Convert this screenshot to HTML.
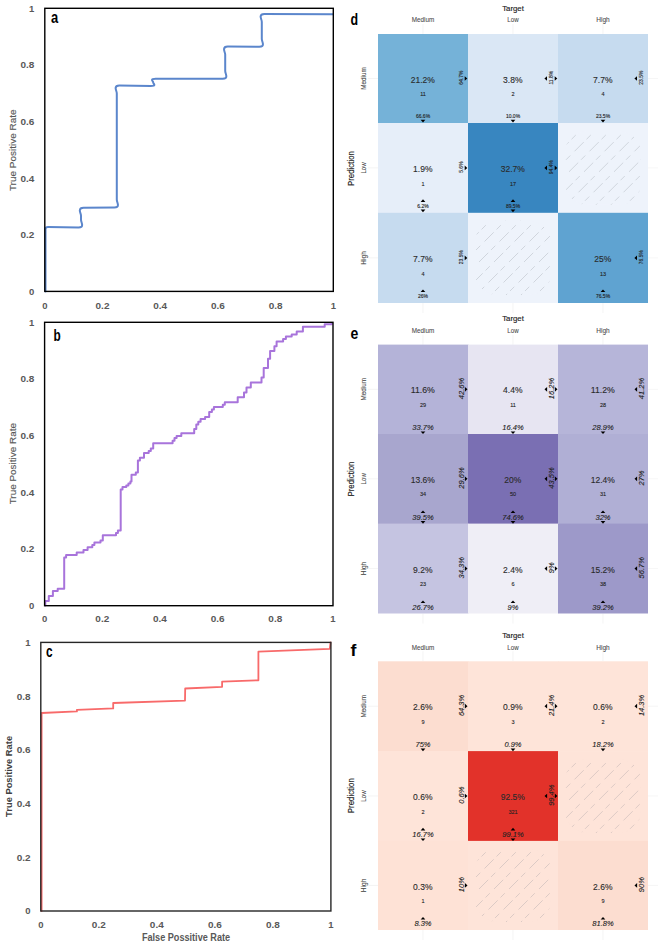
<!DOCTYPE html><html><head><meta charset="utf-8"><style>html,body{margin:0;padding:0;background:#fff;width:662px;height:945px;overflow:hidden;position:relative}</style></head><body><svg width="662" height="945" viewBox="0 0 662 945" style="position:absolute;left:0;top:0;font-family:&quot;Liberation Sans&quot;, sans-serif">
<rect width="662" height="945" fill="#fff"/>
<text x="34.40" y="294.80" font-size="9.5" fill="#595959" text-anchor="end" font-weight="bold">0</text>
<text x="44.80" y="308.80" font-size="9.5" fill="#595959" text-anchor="middle" font-weight="bold">0</text>
<text x="34.40" y="238.18" font-size="9.5" fill="#595959" text-anchor="end" font-weight="bold" textLength="13.9" lengthAdjust="spacingAndGlyphs">0.2</text>
<text x="102.50" y="308.80" font-size="9.5" fill="#595959" text-anchor="middle" font-weight="bold" textLength="13.9" lengthAdjust="spacingAndGlyphs">0.2</text>
<text x="34.40" y="181.56" font-size="9.5" fill="#595959" text-anchor="end" font-weight="bold" textLength="13.9" lengthAdjust="spacingAndGlyphs">0.4</text>
<text x="160.20" y="308.80" font-size="9.5" fill="#595959" text-anchor="middle" font-weight="bold" textLength="13.9" lengthAdjust="spacingAndGlyphs">0.4</text>
<text x="34.40" y="124.94" font-size="9.5" fill="#595959" text-anchor="end" font-weight="bold" textLength="13.9" lengthAdjust="spacingAndGlyphs">0.6</text>
<text x="217.90" y="308.80" font-size="9.5" fill="#595959" text-anchor="middle" font-weight="bold" textLength="13.9" lengthAdjust="spacingAndGlyphs">0.6</text>
<text x="34.40" y="68.32" font-size="9.5" fill="#595959" text-anchor="end" font-weight="bold" textLength="13.9" lengthAdjust="spacingAndGlyphs">0.8</text>
<text x="275.60" y="308.80" font-size="9.5" fill="#595959" text-anchor="middle" font-weight="bold" textLength="13.9" lengthAdjust="spacingAndGlyphs">0.8</text>
<text x="34.40" y="11.70" font-size="9.5" fill="#595959" text-anchor="end" font-weight="bold">1</text>
<text x="333.30" y="308.80" font-size="9.5" fill="#595959" text-anchor="middle" font-weight="bold">1</text>
<path d="M45.5,291.4 L45.5,229 C45.5,227.5 46,227 48,227  L78.50,227.60 C81.50,227.60 82.30,226.60 82.11,224.60 C81.91,222.60 81.00,221.60 81.00,219.60 L81.00,215.80 C81.00,213.80 79.70,212.30 79.83,210.30 C79.96,208.30 81.00,207.80 83.50,207.80 L114.30,207.60 C117.30,207.60 118.10,206.60 117.91,204.60 C117.71,202.60 116.80,201.60 116.80,199.60 L116.80,93.40 C116.80,91.40 115.50,89.90 115.63,87.90 C115.76,85.90 116.80,85.40 119.30,85.40 L150.70,86.00 C153.70,86.00 154.50,85.55 154.30,84.65 C154.11,83.75 153.20,83.30 153.20,82.40 L153.20,82.40 C153.20,81.50 151.90,80.83 152.03,79.92 C152.16,79.02 153.20,78.80 155.70,78.80 L222.70,78.80 C225.70,78.80 226.50,77.80 226.30,75.80 C226.11,73.80 225.20,72.80 225.20,70.80 L225.20,54.60 C225.20,52.60 223.90,51.10 224.03,49.10 C224.16,47.10 225.20,46.60 227.70,46.60 L259.30,46.80 C262.30,46.80 263.10,45.80 262.91,43.80 C262.71,41.80 261.80,40.80 261.80,38.80 L261.80,21.90 C261.80,19.90 260.50,18.40 260.63,16.40 C260.76,14.40 261.80,13.90 264.30,13.90 L333.00,14.30" fill="none" stroke="#5B86CC" stroke-width="2" stroke-linejoin="round" stroke-linecap="round"/>
<rect x="44.80" y="8.30" width="288.50" height="283.10" fill="none" stroke="#000" stroke-width="1.4"/>
<text x="51.00" y="23.00" font-size="16" fill="#000" text-anchor="start" font-weight="bold" textLength="7.2" lengthAdjust="spacingAndGlyphs">a</text>
<text x="16.20" y="150.30" font-size="9" fill="#595959" text-anchor="middle" textLength="81.6" lengthAdjust="spacingAndGlyphs" transform="rotate(-90 16.20 150.30)" stroke="#595959" stroke-width="0.15">True Positive Rate</text>
<text x="34.40" y="609.10" font-size="9.5" fill="#595959" text-anchor="end" font-weight="bold">0</text>
<text x="44.60" y="622.40" font-size="9.5" fill="#595959" text-anchor="middle" font-weight="bold">0</text>
<text x="34.40" y="552.42" font-size="9.5" fill="#595959" text-anchor="end" font-weight="bold" textLength="13.9" lengthAdjust="spacingAndGlyphs">0.2</text>
<text x="102.28" y="622.40" font-size="9.5" fill="#595959" text-anchor="middle" font-weight="bold" textLength="13.9" lengthAdjust="spacingAndGlyphs">0.2</text>
<text x="34.40" y="495.74" font-size="9.5" fill="#595959" text-anchor="end" font-weight="bold" textLength="13.9" lengthAdjust="spacingAndGlyphs">0.4</text>
<text x="159.96" y="622.40" font-size="9.5" fill="#595959" text-anchor="middle" font-weight="bold" textLength="13.9" lengthAdjust="spacingAndGlyphs">0.4</text>
<text x="34.40" y="439.06" font-size="9.5" fill="#595959" text-anchor="end" font-weight="bold" textLength="13.9" lengthAdjust="spacingAndGlyphs">0.6</text>
<text x="217.64" y="622.40" font-size="9.5" fill="#595959" text-anchor="middle" font-weight="bold" textLength="13.9" lengthAdjust="spacingAndGlyphs">0.6</text>
<text x="34.40" y="382.38" font-size="9.5" fill="#595959" text-anchor="end" font-weight="bold" textLength="13.9" lengthAdjust="spacingAndGlyphs">0.8</text>
<text x="275.32" y="622.40" font-size="9.5" fill="#595959" text-anchor="middle" font-weight="bold" textLength="13.9" lengthAdjust="spacingAndGlyphs">0.8</text>
<text x="34.40" y="325.70" font-size="9.5" fill="#595959" text-anchor="end" font-weight="bold">1</text>
<text x="333.00" y="622.40" font-size="9.5" fill="#595959" text-anchor="middle" font-weight="bold">1</text>
<path d="M45.30,605.60 L45.30,600.90 L48.80,600.90 L48.80,596.10 L52.90,596.10 L52.90,591.00 L57.70,591.00 L57.70,588.70 L64.20,588.70 L64.20,557.40 L66.10,557.40 L66.10,555.00 L76.70,555.00 L76.70,552.40 L83.50,552.40 L83.50,549.90 L87.60,549.90 L87.60,547.20 L92.30,547.20 L92.30,545.10 L94.40,545.10 L94.40,542.40 L100.50,542.40 L100.50,540.40 L102.80,540.40 L102.80,535.20 L116.00,535.20 L116.00,533.10 L117.90,533.10 L117.90,530.40 L120.70,530.40 L120.70,489.60 L122.50,489.60 L122.50,486.90 L126.30,486.90 L126.30,485.50 L128.40,485.50 L128.40,483.50 L130.40,483.50 L130.40,481.50 L131.50,481.50 L131.50,474.70 L135.80,474.70 L135.80,472.60 L137.90,472.60 L137.90,460.40 L139.90,460.40 L139.90,457.70 L144.00,457.70 L144.00,452.90 L148.70,452.90 L148.70,450.90 L150.80,450.90 L150.80,448.40 L153.20,448.40 L153.20,443.20 L172.60,443.20 L172.60,440.70 L174.50,440.70 L174.50,438.00 L176.60,438.00 L176.60,435.90 L181.30,435.90 L181.30,433.20 L194.20,433.20 L194.20,429.10 L196.30,429.10 L196.30,424.40 L198.30,424.40 L198.30,421.70 L200.60,421.70 L200.60,418.90 L205.10,418.90 L205.10,416.90 L209.20,416.90 L209.20,412.10 L211.90,412.10 L211.90,409.40 L213.90,409.40 L213.90,407.00 L222.80,407.00 L222.80,404.70 L224.80,404.70 L224.80,402.20 L237.70,402.20 L237.70,397.20 L244.00,397.20 L244.00,392.50 L246.50,392.50 L246.50,387.50 L250.80,387.50 L250.80,382.50 L261.50,382.50 L261.50,377.40 L263.70,377.40 L263.70,368.10 L268.00,368.10 L268.00,358.80 L270.10,358.80 L270.10,350.90 L274.40,350.90 L274.40,346.30 L276.60,346.30 L276.60,341.60 L283.10,341.60 L283.10,339.10 L285.90,339.10 L285.90,336.50 L291.70,336.50 L291.70,334.40 L296.70,334.40 L296.70,331.50 L302.90,331.50 L302.90,326.80 L324.70,326.80 L324.70,324.30 L331.80,324.30 L331.80,322.90" fill="none" stroke="#A874DB" stroke-width="2" stroke-linejoin="round" stroke-linecap="round"/>
<rect x="44.60" y="322.30" width="288.40" height="283.40" fill="none" stroke="#000" stroke-width="1.4"/>
<text x="53.50" y="341.40" font-size="16" fill="#000" text-anchor="start" font-weight="bold" textLength="7.2" lengthAdjust="spacingAndGlyphs">b</text>
<text x="16.20" y="463.70" font-size="9" fill="#595959" text-anchor="middle" textLength="81.3" lengthAdjust="spacingAndGlyphs" transform="rotate(-90 16.20 463.70)" stroke="#595959" stroke-width="0.15">True Positive Rate</text>
<text x="30.60" y="914.40" font-size="9.5" fill="#595959" text-anchor="end" font-weight="bold">0</text>
<text x="40.80" y="928.00" font-size="9.5" fill="#595959" text-anchor="middle" font-weight="bold">0</text>
<text x="30.60" y="860.68" font-size="9.5" fill="#595959" text-anchor="end" font-weight="bold" textLength="13.9" lengthAdjust="spacingAndGlyphs">0.2</text>
<text x="98.82" y="928.00" font-size="9.5" fill="#595959" text-anchor="middle" font-weight="bold" textLength="13.9" lengthAdjust="spacingAndGlyphs">0.2</text>
<text x="30.60" y="806.96" font-size="9.5" fill="#595959" text-anchor="end" font-weight="bold" textLength="13.9" lengthAdjust="spacingAndGlyphs">0.4</text>
<text x="156.84" y="928.00" font-size="9.5" fill="#595959" text-anchor="middle" font-weight="bold" textLength="13.9" lengthAdjust="spacingAndGlyphs">0.4</text>
<text x="30.60" y="753.24" font-size="9.5" fill="#595959" text-anchor="end" font-weight="bold" textLength="13.9" lengthAdjust="spacingAndGlyphs">0.6</text>
<text x="214.86" y="928.00" font-size="9.5" fill="#595959" text-anchor="middle" font-weight="bold" textLength="13.9" lengthAdjust="spacingAndGlyphs">0.6</text>
<text x="30.60" y="699.52" font-size="9.5" fill="#595959" text-anchor="end" font-weight="bold" textLength="13.9" lengthAdjust="spacingAndGlyphs">0.8</text>
<text x="272.88" y="928.00" font-size="9.5" fill="#595959" text-anchor="middle" font-weight="bold" textLength="13.9" lengthAdjust="spacingAndGlyphs">0.8</text>
<text x="30.60" y="645.80" font-size="9.5" fill="#595959" text-anchor="end" font-weight="bold">1</text>
<text x="330.90" y="928.00" font-size="9.5" fill="#595959" text-anchor="middle" font-weight="bold">1</text>
<path d="M41.60,911.00 L41.60,713.00 L76.90,711.40 L76.90,709.80 L113.20,708.40 L113.20,703.00 L185.00,700.60 L185.20,688.50 L222.10,686.80 L222.10,681.70 L258.40,680.30 L258.40,651.70 L329.80,648.90 L330.50,642.50" fill="none" stroke="#F86A6A" stroke-width="1.8" stroke-linejoin="round" stroke-linecap="round"/>
<rect x="40.80" y="642.40" width="290.10" height="268.60" fill="none" stroke="#262626" stroke-width="1.4"/>
<text x="46.00" y="657.00" font-size="16" fill="#000" text-anchor="start" font-weight="bold" textLength="6.6" lengthAdjust="spacingAndGlyphs">c</text>
<text x="11.70" y="776.40" font-size="9.6" fill="#404040" text-anchor="middle" font-weight="bold" textLength="81" lengthAdjust="spacingAndGlyphs" transform="rotate(-90 11.70 776.40)">True Positive Rate</text>
<text x="186.00" y="941.30" font-size="10" fill="#595959" text-anchor="middle" font-weight="bold" textLength="88.2" lengthAdjust="spacingAndGlyphs">False Possitive Rate</text>
<text x="350.50" y="25.00" font-size="16" fill="#000" text-anchor="start" font-weight="bold" textLength="7.6" lengthAdjust="spacingAndGlyphs">d</text>
<text x="513.00" y="10.70" font-size="8" fill="#222" text-anchor="middle" textLength="21.7" lengthAdjust="spacingAndGlyphs" stroke="#222" stroke-width="0.15">Target</text>
<text x="423.00" y="22.40" font-size="7" fill="#4a4a4a" text-anchor="middle" textLength="22.5" lengthAdjust="spacingAndGlyphs" stroke="#4a4a4a" stroke-width="0.08">Medium</text>
<line x1="423.0" y1="24.0" x2="423.0" y2="34.0" stroke="#ececec" stroke-width="0.6"/>
<line x1="423.0" y1="303.0" x2="423.0" y2="313.0" stroke="#ececec" stroke-width="0.6"/>
<text x="513.00" y="22.40" font-size="7" fill="#4a4a4a" text-anchor="middle" textLength="11.3" lengthAdjust="spacingAndGlyphs" stroke="#4a4a4a" stroke-width="0.08">Low</text>
<line x1="513.0" y1="24.0" x2="513.0" y2="34.0" stroke="#ececec" stroke-width="0.6"/>
<line x1="513.0" y1="303.0" x2="513.0" y2="313.0" stroke="#ececec" stroke-width="0.6"/>
<text x="603.00" y="22.40" font-size="7" fill="#4a4a4a" text-anchor="middle" textLength="13.5" lengthAdjust="spacingAndGlyphs" stroke="#4a4a4a" stroke-width="0.08">High</text>
<line x1="603.0" y1="24.0" x2="603.0" y2="34.0" stroke="#ececec" stroke-width="0.6"/>
<line x1="603.0" y1="303.0" x2="603.0" y2="313.0" stroke="#ececec" stroke-width="0.6"/>
<text x="366.30" y="78.50" font-size="7" fill="#4a4a4a" text-anchor="middle" textLength="22.5" lengthAdjust="spacingAndGlyphs" transform="rotate(-90 366.30 78.50)" stroke="#4a4a4a" stroke-width="0.08">Medium</text>
<line x1="368" y1="78.50" x2="378" y2="78.50" stroke="#ececec" stroke-width="0.6"/>
<line x1="648" y1="78.50" x2="658" y2="78.50" stroke="#f0f0f0" stroke-width="0.6"/>
<text x="366.30" y="167.90" font-size="7" fill="#4a4a4a" text-anchor="middle" textLength="11.3" lengthAdjust="spacingAndGlyphs" transform="rotate(-90 366.30 167.90)" stroke="#4a4a4a" stroke-width="0.08">Low</text>
<line x1="368" y1="167.90" x2="378" y2="167.90" stroke="#ececec" stroke-width="0.6"/>
<line x1="648" y1="167.90" x2="658" y2="167.90" stroke="#f0f0f0" stroke-width="0.6"/>
<text x="366.30" y="257.90" font-size="7" fill="#4a4a4a" text-anchor="middle" textLength="13.5" lengthAdjust="spacingAndGlyphs" transform="rotate(-90 366.30 257.90)" stroke="#4a4a4a" stroke-width="0.08">High</text>
<line x1="368" y1="257.90" x2="378" y2="257.90" stroke="#ececec" stroke-width="0.6"/>
<line x1="648" y1="257.90" x2="658" y2="257.90" stroke="#f0f0f0" stroke-width="0.6"/>
<text x="353.60" y="168.50" font-size="9" fill="#222" text-anchor="middle" textLength="35" lengthAdjust="spacingAndGlyphs" transform="rotate(-90 353.60 168.50)" stroke="#222" stroke-width="0.15">Prediction</text>
<rect x="378.00" y="34.00" width="90.5" height="89.50" fill="#75B2D8"/>
<rect x="468.00" y="34.00" width="90.5" height="89.50" fill="#DAE7F5"/>
<rect x="558.00" y="34.00" width="90" height="89.50" fill="#C6DBEF"/>
<rect x="378.00" y="123.00" width="90.5" height="90.30" fill="#E6EEF9"/>
<rect x="468.00" y="123.00" width="90.5" height="90.30" fill="#3886C0"/>
<rect x="558.00" y="123.00" width="90" height="90.30" fill="#EEF3FB"/>
<rect x="378.00" y="212.80" width="90.5" height="90.20" fill="#C6DBEF"/>
<rect x="468.00" y="212.80" width="90.5" height="90.20" fill="#EEF3FB"/>
<rect x="558.00" y="212.80" width="90" height="90.20" fill="#5FA3D1"/>
<text x="422.80" y="82.60" font-size="9" fill="#2a2a2a" text-anchor="middle" textLength="24.1" lengthAdjust="spacingAndGlyphs" stroke="#2a2a2a" stroke-width="0.12">21.2%</text>
<text x="423.00" y="96.10" font-size="5.5" fill="#222" text-anchor="middle" stroke="#222" stroke-width="0.1">11</text>
<text x="423.00" y="118.00" font-size="5" fill="#222" text-anchor="middle" stroke="#222" stroke-width="0.12">66.6%</text>
<path d="M420.65,119.80 L425.35,119.80 L423.00,122.40Z" fill="#000"/>
<text x="462.60" y="77.70" font-size="5" fill="#222" text-anchor="middle" transform="rotate(-90 462.60 77.70)" stroke="#222" stroke-width="0.12">64.7%</text>
<path d="M464.70,76.15 L464.70,80.85 L467.30,78.50Z" fill="#000"/>
<text x="512.80" y="82.60" font-size="9" fill="#2a2a2a" text-anchor="middle" textLength="19.4" lengthAdjust="spacingAndGlyphs" stroke="#2a2a2a" stroke-width="0.12">3.8%</text>
<text x="513.00" y="96.10" font-size="5.5" fill="#222" text-anchor="middle" stroke="#222" stroke-width="0.1">2</text>
<text x="513.00" y="118.00" font-size="5" fill="#222" text-anchor="middle" stroke="#222" stroke-width="0.12">10.0%</text>
<path d="M510.65,119.80 L515.35,119.80 L513.00,122.40Z" fill="#000"/>
<text x="552.60" y="77.70" font-size="5" fill="#222" text-anchor="middle" transform="rotate(-90 552.60 77.70)" stroke="#222" stroke-width="0.12">11.8%</text>
<path d="M554.70,76.15 L554.70,80.85 L557.30,78.50Z" fill="#000"/>
<path d="M547.00,76.15 L547.00,80.85 L544.40,78.50Z" fill="#000"/>
<text x="602.80" y="82.60" font-size="9" fill="#2a2a2a" text-anchor="middle" textLength="19.4" lengthAdjust="spacingAndGlyphs" stroke="#2a2a2a" stroke-width="0.12">7.7%</text>
<text x="603.00" y="96.10" font-size="5.5" fill="#222" text-anchor="middle" stroke="#222" stroke-width="0.1">4</text>
<text x="603.00" y="118.00" font-size="5" fill="#222" text-anchor="middle" stroke="#222" stroke-width="0.12">23.5%</text>
<path d="M600.65,119.80 L605.35,119.80 L603.00,122.40Z" fill="#000"/>
<text x="642.60" y="77.70" font-size="5" fill="#222" text-anchor="middle" transform="rotate(-90 642.60 77.70)" stroke="#222" stroke-width="0.12">23.5%</text>
<path d="M637.00,76.15 L637.00,80.85 L634.40,78.50Z" fill="#000"/>
<text x="422.80" y="172.00" font-size="9" fill="#2a2a2a" text-anchor="middle" textLength="19.4" lengthAdjust="spacingAndGlyphs" stroke="#2a2a2a" stroke-width="0.12">1.9%</text>
<text x="423.00" y="185.50" font-size="5.5" fill="#222" text-anchor="middle" stroke="#222" stroke-width="0.1">1</text>
<text x="423.00" y="207.80" font-size="5" fill="#222" text-anchor="middle" stroke="#222" stroke-width="0.12">6.2%</text>
<path d="M420.65,209.60 L425.35,209.60 L423.00,212.20Z" fill="#000"/>
<path d="M420.65,201.90 L425.35,201.90 L423.00,199.30Z" fill="#000"/>
<text x="462.60" y="167.10" font-size="5" fill="#222" text-anchor="middle" transform="rotate(-90 462.60 167.10)" stroke="#222" stroke-width="0.12">5.6%</text>
<path d="M464.70,165.55 L464.70,170.25 L467.30,167.90Z" fill="#000"/>
<text x="512.80" y="172.00" font-size="9" fill="#2a2a2a" text-anchor="middle" textLength="24.1" lengthAdjust="spacingAndGlyphs" stroke="#2a2a2a" stroke-width="0.12">32.7%</text>
<text x="513.00" y="185.50" font-size="5.5" fill="#222" text-anchor="middle" stroke="#222" stroke-width="0.1">17</text>
<text x="513.00" y="207.80" font-size="5" fill="#222" text-anchor="middle" stroke="#222" stroke-width="0.12">89.5%</text>
<path d="M510.65,209.60 L515.35,209.60 L513.00,212.20Z" fill="#000"/>
<path d="M510.65,201.90 L515.35,201.90 L513.00,199.30Z" fill="#000"/>
<text x="552.60" y="167.10" font-size="5" fill="#222" text-anchor="middle" transform="rotate(-90 552.60 167.10)" stroke="#222" stroke-width="0.12">94.4%</text>
<path d="M554.70,165.55 L554.70,170.25 L557.30,167.90Z" fill="#000"/>
<path d="M547.00,165.55 L547.00,170.25 L544.40,167.90Z" fill="#000"/>
<clipPath id="clipd12"><rect x="565.00" y="131.00" width="76" height="73.80" rx="22" ry="22"/></clipPath>
<g clip-path="url(#clipd12)" stroke="#80848e" stroke-width="0.5" stroke-dasharray="13 4 6 6" opacity="0.55">
<line x1="453.00" y1="212.80" x2="542.80" y2="123.00"/>
<line x1="468.00" y1="212.80" x2="557.80" y2="123.00"/>
<line x1="483.00" y1="212.80" x2="572.80" y2="123.00"/>
<line x1="498.00" y1="212.80" x2="587.80" y2="123.00"/>
<line x1="513.00" y1="212.80" x2="602.80" y2="123.00"/>
<line x1="528.00" y1="212.80" x2="617.80" y2="123.00"/>
<line x1="543.00" y1="212.80" x2="632.80" y2="123.00"/>
<line x1="558.00" y1="212.80" x2="647.80" y2="123.00"/>
<line x1="573.00" y1="212.80" x2="662.80" y2="123.00"/>
<line x1="588.00" y1="212.80" x2="677.80" y2="123.00"/>
<line x1="603.00" y1="212.80" x2="692.80" y2="123.00"/>
<line x1="618.00" y1="212.80" x2="707.80" y2="123.00"/>
<line x1="633.00" y1="212.80" x2="722.80" y2="123.00"/>
<line x1="648.00" y1="212.80" x2="737.80" y2="123.00"/>
<line x1="663.00" y1="212.80" x2="752.80" y2="123.00"/>
</g>
<text x="422.80" y="262.00" font-size="9" fill="#2a2a2a" text-anchor="middle" textLength="19.4" lengthAdjust="spacingAndGlyphs" stroke="#2a2a2a" stroke-width="0.12">7.7%</text>
<text x="423.00" y="275.50" font-size="5.5" fill="#222" text-anchor="middle" stroke="#222" stroke-width="0.1">4</text>
<text x="423.00" y="298.00" font-size="5" fill="#222" text-anchor="middle" stroke="#222" stroke-width="0.12">26%</text>
<path d="M420.65,292.10 L425.35,292.10 L423.00,289.50Z" fill="#000"/>
<text x="462.60" y="257.10" font-size="5" fill="#222" text-anchor="middle" transform="rotate(-90 462.60 257.10)" stroke="#222" stroke-width="0.12">23.5%</text>
<path d="M464.70,255.55 L464.70,260.25 L467.30,257.90Z" fill="#000"/>
<clipPath id="clipd21"><rect x="475.00" y="220.80" width="76" height="74.20" rx="22" ry="22"/></clipPath>
<g clip-path="url(#clipd21)" stroke="#80848e" stroke-width="0.5" stroke-dasharray="13 4 6 6" opacity="0.55">
<line x1="363.00" y1="303.00" x2="453.20" y2="212.80"/>
<line x1="378.00" y1="303.00" x2="468.20" y2="212.80"/>
<line x1="393.00" y1="303.00" x2="483.20" y2="212.80"/>
<line x1="408.00" y1="303.00" x2="498.20" y2="212.80"/>
<line x1="423.00" y1="303.00" x2="513.20" y2="212.80"/>
<line x1="438.00" y1="303.00" x2="528.20" y2="212.80"/>
<line x1="453.00" y1="303.00" x2="543.20" y2="212.80"/>
<line x1="468.00" y1="303.00" x2="558.20" y2="212.80"/>
<line x1="483.00" y1="303.00" x2="573.20" y2="212.80"/>
<line x1="498.00" y1="303.00" x2="588.20" y2="212.80"/>
<line x1="513.00" y1="303.00" x2="603.20" y2="212.80"/>
<line x1="528.00" y1="303.00" x2="618.20" y2="212.80"/>
<line x1="543.00" y1="303.00" x2="633.20" y2="212.80"/>
<line x1="558.00" y1="303.00" x2="648.20" y2="212.80"/>
<line x1="573.00" y1="303.00" x2="663.20" y2="212.80"/>
</g>
<text x="602.80" y="262.00" font-size="9" fill="#2a2a2a" text-anchor="middle" textLength="17.0" lengthAdjust="spacingAndGlyphs" stroke="#2a2a2a" stroke-width="0.12">25%</text>
<text x="603.00" y="275.50" font-size="5.5" fill="#222" text-anchor="middle" stroke="#222" stroke-width="0.1">13</text>
<text x="603.00" y="298.00" font-size="5" fill="#222" text-anchor="middle" stroke="#222" stroke-width="0.12">76.5%</text>
<path d="M600.65,292.10 L605.35,292.10 L603.00,289.50Z" fill="#000"/>
<text x="642.60" y="257.10" font-size="5" fill="#222" text-anchor="middle" transform="rotate(-90 642.60 257.10)" stroke="#222" stroke-width="0.12">76.5%</text>
<path d="M637.00,255.55 L637.00,260.25 L634.40,257.90Z" fill="#000"/>
<text x="350.50" y="339.30" font-size="16" fill="#000" text-anchor="start" font-weight="bold" textLength="7.8" lengthAdjust="spacingAndGlyphs">e</text>
<text x="513.00" y="321.30" font-size="8" fill="#222" text-anchor="middle" textLength="21.7" lengthAdjust="spacingAndGlyphs" stroke="#222" stroke-width="0.15">Target</text>
<text x="423.00" y="333.00" font-size="7" fill="#4a4a4a" text-anchor="middle" textLength="22.5" lengthAdjust="spacingAndGlyphs" stroke="#4a4a4a" stroke-width="0.08">Medium</text>
<line x1="423.0" y1="334.6" x2="423.0" y2="344.6" stroke="#ececec" stroke-width="0.6"/>
<line x1="423.0" y1="613.5" x2="423.0" y2="623.5" stroke="#ececec" stroke-width="0.6"/>
<text x="513.00" y="333.00" font-size="7" fill="#4a4a4a" text-anchor="middle" textLength="11.3" lengthAdjust="spacingAndGlyphs" stroke="#4a4a4a" stroke-width="0.08">Low</text>
<line x1="513.0" y1="334.6" x2="513.0" y2="344.6" stroke="#ececec" stroke-width="0.6"/>
<line x1="513.0" y1="613.5" x2="513.0" y2="623.5" stroke="#ececec" stroke-width="0.6"/>
<text x="603.00" y="333.00" font-size="7" fill="#4a4a4a" text-anchor="middle" textLength="13.5" lengthAdjust="spacingAndGlyphs" stroke="#4a4a4a" stroke-width="0.08">High</text>
<line x1="603.0" y1="334.6" x2="603.0" y2="344.6" stroke="#ececec" stroke-width="0.6"/>
<line x1="603.0" y1="613.5" x2="603.0" y2="623.5" stroke="#ececec" stroke-width="0.6"/>
<text x="366.30" y="389.30" font-size="7" fill="#4a4a4a" text-anchor="middle" textLength="22.5" lengthAdjust="spacingAndGlyphs" transform="rotate(-90 366.30 389.30)" stroke="#4a4a4a" stroke-width="0.08">Medium</text>
<line x1="368" y1="389.30" x2="378" y2="389.30" stroke="#ececec" stroke-width="0.6"/>
<line x1="648" y1="389.30" x2="658" y2="389.30" stroke="#f0f0f0" stroke-width="0.6"/>
<text x="366.30" y="478.80" font-size="7" fill="#4a4a4a" text-anchor="middle" textLength="11.3" lengthAdjust="spacingAndGlyphs" transform="rotate(-90 366.30 478.80)" stroke="#4a4a4a" stroke-width="0.08">Low</text>
<line x1="368" y1="478.80" x2="378" y2="478.80" stroke="#ececec" stroke-width="0.6"/>
<line x1="648" y1="478.80" x2="658" y2="478.80" stroke="#f0f0f0" stroke-width="0.6"/>
<text x="366.30" y="568.55" font-size="7" fill="#4a4a4a" text-anchor="middle" textLength="13.5" lengthAdjust="spacingAndGlyphs" transform="rotate(-90 366.30 568.55)" stroke="#4a4a4a" stroke-width="0.08">High</text>
<line x1="368" y1="568.55" x2="378" y2="568.55" stroke="#ececec" stroke-width="0.6"/>
<line x1="648" y1="568.55" x2="658" y2="568.55" stroke="#f0f0f0" stroke-width="0.6"/>
<text x="353.60" y="479.05" font-size="9" fill="#222" text-anchor="middle" textLength="35" lengthAdjust="spacingAndGlyphs" transform="rotate(-90 353.60 479.05)" stroke="#222" stroke-width="0.15">Prediction</text>
<rect x="378.00" y="344.60" width="90.5" height="89.90" fill="#B4B3D8"/>
<rect x="468.00" y="344.60" width="90.5" height="89.90" fill="#E7E5F2"/>
<rect x="558.00" y="344.60" width="90" height="89.90" fill="#B6B5D9"/>
<rect x="378.00" y="434.00" width="90.5" height="90.10" fill="#A8A6CE"/>
<rect x="468.00" y="434.00" width="90.5" height="90.10" fill="#7A6FB3"/>
<rect x="558.00" y="434.00" width="90" height="90.10" fill="#B0AFD5"/>
<rect x="378.00" y="523.60" width="90.5" height="89.90" fill="#C5C4E1"/>
<rect x="468.00" y="523.60" width="90.5" height="89.90" fill="#EFEEF6"/>
<rect x="558.00" y="523.60" width="90" height="89.90" fill="#9D99C9"/>
<text x="422.80" y="393.40" font-size="9" fill="#2a2a2a" text-anchor="middle" textLength="24.1" lengthAdjust="spacingAndGlyphs" stroke="#2a2a2a" stroke-width="0.12">11.6%</text>
<text x="423.00" y="406.90" font-size="5.5" fill="#222" text-anchor="middle" stroke="#222" stroke-width="0.1">29</text>
<text x="423.00" y="430.30" font-size="7.5" fill="#222" text-anchor="middle" font-style="italic" stroke="#222" stroke-width="0.12">33.7%</text>
<path d="M420.65,431.50 L425.35,431.50 L423.00,434.10Z" fill="#000"/>
<text x="464.20" y="388.50" font-size="7.5" fill="#222" text-anchor="middle" font-style="italic" transform="rotate(-90 464.20 388.50)" stroke="#222" stroke-width="0.12">42.6%</text>
<path d="M464.90,386.95 L464.90,391.65 L467.50,389.30Z" fill="#000"/>
<text x="512.80" y="393.40" font-size="9" fill="#2a2a2a" text-anchor="middle" textLength="19.4" lengthAdjust="spacingAndGlyphs" stroke="#2a2a2a" stroke-width="0.12">4.4%</text>
<text x="513.00" y="406.90" font-size="5.5" fill="#222" text-anchor="middle" stroke="#222" stroke-width="0.1">11</text>
<text x="513.00" y="430.30" font-size="7.5" fill="#222" text-anchor="middle" font-style="italic" stroke="#222" stroke-width="0.12">16.4%</text>
<path d="M510.65,431.50 L515.35,431.50 L513.00,434.10Z" fill="#000"/>
<text x="554.20" y="388.50" font-size="7.5" fill="#222" text-anchor="middle" font-style="italic" transform="rotate(-90 554.20 388.50)" stroke="#222" stroke-width="0.12">16.2%</text>
<path d="M554.90,386.95 L554.90,391.65 L557.50,389.30Z" fill="#000"/>
<path d="M547.10,386.95 L547.10,391.65 L544.50,389.30Z" fill="#000"/>
<text x="602.80" y="393.40" font-size="9" fill="#2a2a2a" text-anchor="middle" textLength="24.1" lengthAdjust="spacingAndGlyphs" stroke="#2a2a2a" stroke-width="0.12">11.2%</text>
<text x="603.00" y="406.90" font-size="5.5" fill="#222" text-anchor="middle" stroke="#222" stroke-width="0.1">28</text>
<text x="603.00" y="430.30" font-size="7.5" fill="#222" text-anchor="middle" font-style="italic" stroke="#222" stroke-width="0.12">28.9%</text>
<path d="M600.65,431.50 L605.35,431.50 L603.00,434.10Z" fill="#000"/>
<text x="644.20" y="388.50" font-size="7.5" fill="#222" text-anchor="middle" font-style="italic" transform="rotate(-90 644.20 388.50)" stroke="#222" stroke-width="0.12">41.2%</text>
<path d="M637.10,386.95 L637.10,391.65 L634.50,389.30Z" fill="#000"/>
<text x="422.80" y="482.90" font-size="9" fill="#2a2a2a" text-anchor="middle" textLength="24.1" lengthAdjust="spacingAndGlyphs" stroke="#2a2a2a" stroke-width="0.12">13.6%</text>
<text x="423.00" y="496.40" font-size="5.5" fill="#222" text-anchor="middle" stroke="#222" stroke-width="0.1">34</text>
<text x="423.00" y="519.90" font-size="7.5" fill="#222" text-anchor="middle" font-style="italic" stroke="#222" stroke-width="0.12">39.5%</text>
<path d="M420.65,521.10 L425.35,521.10 L423.00,523.70Z" fill="#000"/>
<path d="M420.65,513.10 L425.35,513.10 L423.00,510.50Z" fill="#000"/>
<text x="464.20" y="478.00" font-size="7.5" fill="#222" text-anchor="middle" font-style="italic" transform="rotate(-90 464.20 478.00)" stroke="#222" stroke-width="0.12">29.6%</text>
<path d="M464.90,476.45 L464.90,481.15 L467.50,478.80Z" fill="#000"/>
<text x="512.80" y="482.90" font-size="9" fill="#2a2a2a" text-anchor="middle" textLength="17.0" lengthAdjust="spacingAndGlyphs" stroke="#2a2a2a" stroke-width="0.12">20%</text>
<text x="513.00" y="496.40" font-size="5.5" fill="#222" text-anchor="middle" stroke="#222" stroke-width="0.1">50</text>
<text x="513.00" y="519.90" font-size="7.5" fill="#222" text-anchor="middle" font-style="italic" stroke="#222" stroke-width="0.12">74.6%</text>
<path d="M510.65,521.10 L515.35,521.10 L513.00,523.70Z" fill="#000"/>
<path d="M510.65,513.10 L515.35,513.10 L513.00,510.50Z" fill="#000"/>
<text x="554.20" y="478.00" font-size="7.5" fill="#222" text-anchor="middle" font-style="italic" transform="rotate(-90 554.20 478.00)" stroke="#222" stroke-width="0.12">43.5%</text>
<path d="M554.90,476.45 L554.90,481.15 L557.50,478.80Z" fill="#000"/>
<path d="M547.10,476.45 L547.10,481.15 L544.50,478.80Z" fill="#000"/>
<text x="602.80" y="482.90" font-size="9" fill="#2a2a2a" text-anchor="middle" textLength="24.1" lengthAdjust="spacingAndGlyphs" stroke="#2a2a2a" stroke-width="0.12">12.4%</text>
<text x="603.00" y="496.40" font-size="5.5" fill="#222" text-anchor="middle" stroke="#222" stroke-width="0.1">31</text>
<text x="603.00" y="519.90" font-size="7.5" fill="#222" text-anchor="middle" font-style="italic" stroke="#222" stroke-width="0.12">32%</text>
<path d="M600.65,521.10 L605.35,521.10 L603.00,523.70Z" fill="#000"/>
<path d="M600.65,513.10 L605.35,513.10 L603.00,510.50Z" fill="#000"/>
<text x="644.20" y="478.00" font-size="7.5" fill="#222" text-anchor="middle" font-style="italic" transform="rotate(-90 644.20 478.00)" stroke="#222" stroke-width="0.12">27%</text>
<path d="M637.10,476.45 L637.10,481.15 L634.50,478.80Z" fill="#000"/>
<text x="422.80" y="572.65" font-size="9" fill="#2a2a2a" text-anchor="middle" textLength="19.4" lengthAdjust="spacingAndGlyphs" stroke="#2a2a2a" stroke-width="0.12">9.2%</text>
<text x="423.00" y="586.15" font-size="5.5" fill="#222" text-anchor="middle" stroke="#222" stroke-width="0.1">23</text>
<text x="423.00" y="609.80" font-size="7.5" fill="#222" text-anchor="middle" font-style="italic" stroke="#222" stroke-width="0.12">26.7%</text>
<path d="M420.65,603.00 L425.35,603.00 L423.00,600.40Z" fill="#000"/>
<text x="464.20" y="567.75" font-size="7.5" fill="#222" text-anchor="middle" font-style="italic" transform="rotate(-90 464.20 567.75)" stroke="#222" stroke-width="0.12">34.3%</text>
<path d="M464.90,566.20 L464.90,570.90 L467.50,568.55Z" fill="#000"/>
<text x="512.80" y="572.65" font-size="9" fill="#2a2a2a" text-anchor="middle" textLength="19.4" lengthAdjust="spacingAndGlyphs" stroke="#2a2a2a" stroke-width="0.12">2.4%</text>
<text x="513.00" y="586.15" font-size="5.5" fill="#222" text-anchor="middle" stroke="#222" stroke-width="0.1">6</text>
<text x="513.00" y="609.80" font-size="7.5" fill="#222" text-anchor="middle" font-style="italic" stroke="#222" stroke-width="0.12">9%</text>
<path d="M510.65,603.00 L515.35,603.00 L513.00,600.40Z" fill="#000"/>
<text x="554.20" y="567.75" font-size="7.5" fill="#222" text-anchor="middle" font-style="italic" transform="rotate(-90 554.20 567.75)" stroke="#222" stroke-width="0.12">9%</text>
<path d="M554.90,566.20 L554.90,570.90 L557.50,568.55Z" fill="#000"/>
<path d="M547.10,566.20 L547.10,570.90 L544.50,568.55Z" fill="#000"/>
<text x="602.80" y="572.65" font-size="9" fill="#2a2a2a" text-anchor="middle" textLength="24.1" lengthAdjust="spacingAndGlyphs" stroke="#2a2a2a" stroke-width="0.12">15.2%</text>
<text x="603.00" y="586.15" font-size="5.5" fill="#222" text-anchor="middle" stroke="#222" stroke-width="0.1">38</text>
<text x="603.00" y="609.80" font-size="7.5" fill="#222" text-anchor="middle" font-style="italic" stroke="#222" stroke-width="0.12">39.2%</text>
<path d="M600.65,603.00 L605.35,603.00 L603.00,600.40Z" fill="#000"/>
<text x="644.20" y="567.75" font-size="7.5" fill="#222" text-anchor="middle" font-style="italic" transform="rotate(-90 644.20 567.75)" stroke="#222" stroke-width="0.12">56.7%</text>
<path d="M637.10,566.20 L637.10,570.90 L634.50,568.55Z" fill="#000"/>
<text x="350.50" y="655.80" font-size="16" fill="#000" text-anchor="start" font-weight="bold" textLength="5.9" lengthAdjust="spacingAndGlyphs">f</text>
<text x="513.00" y="638.00" font-size="8" fill="#222" text-anchor="middle" textLength="21.7" lengthAdjust="spacingAndGlyphs" stroke="#222" stroke-width="0.15">Target</text>
<text x="423.00" y="649.70" font-size="7" fill="#4a4a4a" text-anchor="middle" textLength="22.5" lengthAdjust="spacingAndGlyphs" stroke="#4a4a4a" stroke-width="0.08">Medium</text>
<line x1="423.0" y1="651.3" x2="423.0" y2="661.3" stroke="#ececec" stroke-width="0.6"/>
<line x1="423.0" y1="930.0" x2="423.0" y2="940.0" stroke="#ececec" stroke-width="0.6"/>
<text x="513.00" y="649.70" font-size="7" fill="#4a4a4a" text-anchor="middle" textLength="11.3" lengthAdjust="spacingAndGlyphs" stroke="#4a4a4a" stroke-width="0.08">Low</text>
<line x1="513.0" y1="651.3" x2="513.0" y2="661.3" stroke="#ececec" stroke-width="0.6"/>
<line x1="513.0" y1="930.0" x2="513.0" y2="940.0" stroke="#ececec" stroke-width="0.6"/>
<text x="603.00" y="649.70" font-size="7" fill="#4a4a4a" text-anchor="middle" textLength="13.5" lengthAdjust="spacingAndGlyphs" stroke="#4a4a4a" stroke-width="0.08">High</text>
<line x1="603.0" y1="651.3" x2="603.0" y2="661.3" stroke="#ececec" stroke-width="0.6"/>
<line x1="603.0" y1="930.0" x2="603.0" y2="940.0" stroke="#ececec" stroke-width="0.6"/>
<text x="366.30" y="706.20" font-size="7" fill="#4a4a4a" text-anchor="middle" textLength="22.5" lengthAdjust="spacingAndGlyphs" transform="rotate(-90 366.30 706.20)" stroke="#4a4a4a" stroke-width="0.08">Medium</text>
<line x1="368" y1="706.20" x2="378" y2="706.20" stroke="#ececec" stroke-width="0.6"/>
<line x1="648" y1="706.20" x2="658" y2="706.20" stroke="#f0f0f0" stroke-width="0.6"/>
<text x="366.30" y="796.00" font-size="7" fill="#4a4a4a" text-anchor="middle" textLength="11.3" lengthAdjust="spacingAndGlyphs" transform="rotate(-90 366.30 796.00)" stroke="#4a4a4a" stroke-width="0.08">Low</text>
<line x1="368" y1="796.00" x2="378" y2="796.00" stroke="#ececec" stroke-width="0.6"/>
<line x1="648" y1="796.00" x2="658" y2="796.00" stroke="#f0f0f0" stroke-width="0.6"/>
<text x="366.30" y="885.45" font-size="7" fill="#4a4a4a" text-anchor="middle" textLength="13.5" lengthAdjust="spacingAndGlyphs" transform="rotate(-90 366.30 885.45)" stroke="#4a4a4a" stroke-width="0.08">High</text>
<line x1="368" y1="885.45" x2="378" y2="885.45" stroke="#ececec" stroke-width="0.6"/>
<line x1="648" y1="885.45" x2="658" y2="885.45" stroke="#f0f0f0" stroke-width="0.6"/>
<text x="353.60" y="795.65" font-size="9" fill="#222" text-anchor="middle" textLength="35" lengthAdjust="spacingAndGlyphs" transform="rotate(-90 353.60 795.65)" stroke="#222" stroke-width="0.15">Prediction</text>
<rect x="378.00" y="661.30" width="90.5" height="90.30" fill="#FCDDD0"/>
<rect x="468.00" y="661.30" width="90.5" height="90.30" fill="#FEE4D9"/>
<rect x="558.00" y="661.30" width="90" height="90.30" fill="#FEE4D9"/>
<rect x="378.00" y="751.10" width="90.5" height="90.30" fill="#FEE4D9"/>
<rect x="468.00" y="751.10" width="90.5" height="90.30" fill="#E2322A"/>
<rect x="558.00" y="751.10" width="90" height="90.30" fill="#FEE4D9"/>
<rect x="378.00" y="840.90" width="90.5" height="89.10" fill="#FEE2D6"/>
<rect x="468.00" y="840.90" width="90.5" height="89.10" fill="#FEE4D9"/>
<rect x="558.00" y="840.90" width="90" height="89.10" fill="#FCDDD0"/>
<text x="422.80" y="710.30" font-size="9" fill="#2a2a2a" text-anchor="middle" textLength="19.4" lengthAdjust="spacingAndGlyphs" stroke="#2a2a2a" stroke-width="0.12">2.6%</text>
<text x="423.00" y="723.80" font-size="5.5" fill="#222" text-anchor="middle" stroke="#222" stroke-width="0.1">9</text>
<text x="423.00" y="747.40" font-size="7.5" fill="#222" text-anchor="middle" font-style="italic" stroke="#222" stroke-width="0.12">75%</text>
<path d="M420.65,748.60 L425.35,748.60 L423.00,751.20Z" fill="#000"/>
<text x="464.20" y="705.40" font-size="7.5" fill="#222" text-anchor="middle" font-style="italic" transform="rotate(-90 464.20 705.40)" stroke="#222" stroke-width="0.12">64.3%</text>
<path d="M464.90,703.85 L464.90,708.55 L467.50,706.20Z" fill="#000"/>
<text x="512.80" y="710.30" font-size="9" fill="#2a2a2a" text-anchor="middle" textLength="19.4" lengthAdjust="spacingAndGlyphs" stroke="#2a2a2a" stroke-width="0.12">0.9%</text>
<text x="513.00" y="723.80" font-size="5.5" fill="#222" text-anchor="middle" stroke="#222" stroke-width="0.1">3</text>
<text x="513.00" y="747.40" font-size="7.5" fill="#222" text-anchor="middle" font-style="italic" stroke="#222" stroke-width="0.12">0.9%</text>
<path d="M510.65,748.60 L515.35,748.60 L513.00,751.20Z" fill="#000"/>
<text x="554.20" y="705.40" font-size="7.5" fill="#222" text-anchor="middle" font-style="italic" transform="rotate(-90 554.20 705.40)" stroke="#222" stroke-width="0.12">21.4%</text>
<path d="M554.90,703.85 L554.90,708.55 L557.50,706.20Z" fill="#000"/>
<path d="M547.10,703.85 L547.10,708.55 L544.50,706.20Z" fill="#000"/>
<text x="602.80" y="710.30" font-size="9" fill="#2a2a2a" text-anchor="middle" textLength="19.4" lengthAdjust="spacingAndGlyphs" stroke="#2a2a2a" stroke-width="0.12">0.6%</text>
<text x="603.00" y="723.80" font-size="5.5" fill="#222" text-anchor="middle" stroke="#222" stroke-width="0.1">2</text>
<text x="603.00" y="747.40" font-size="7.5" fill="#222" text-anchor="middle" font-style="italic" stroke="#222" stroke-width="0.12">18.2%</text>
<path d="M600.65,748.60 L605.35,748.60 L603.00,751.20Z" fill="#000"/>
<text x="644.20" y="705.40" font-size="7.5" fill="#222" text-anchor="middle" font-style="italic" transform="rotate(-90 644.20 705.40)" stroke="#222" stroke-width="0.12">14.3%</text>
<path d="M637.10,703.85 L637.10,708.55 L634.50,706.20Z" fill="#000"/>
<text x="422.80" y="800.10" font-size="9" fill="#2a2a2a" text-anchor="middle" textLength="19.4" lengthAdjust="spacingAndGlyphs" stroke="#2a2a2a" stroke-width="0.12">0.6%</text>
<text x="423.00" y="813.60" font-size="5.5" fill="#222" text-anchor="middle" stroke="#222" stroke-width="0.1">2</text>
<text x="423.00" y="837.20" font-size="7.5" fill="#222" text-anchor="middle" font-style="italic" stroke="#222" stroke-width="0.12">16.7%</text>
<path d="M420.65,838.40 L425.35,838.40 L423.00,841.00Z" fill="#000"/>
<path d="M420.65,830.40 L425.35,830.40 L423.00,827.80Z" fill="#000"/>
<text x="464.20" y="795.20" font-size="7.5" fill="#222" text-anchor="middle" font-style="italic" transform="rotate(-90 464.20 795.20)" stroke="#222" stroke-width="0.12">0.6%</text>
<path d="M464.90,793.65 L464.90,798.35 L467.50,796.00Z" fill="#000"/>
<text x="512.80" y="800.10" font-size="9" fill="#2a2a2a" text-anchor="middle" textLength="24.1" lengthAdjust="spacingAndGlyphs" stroke="#2a2a2a" stroke-width="0.12">92.5%</text>
<text x="513.00" y="813.60" font-size="5.5" fill="#222" text-anchor="middle" stroke="#222" stroke-width="0.1">321</text>
<text x="513.00" y="837.20" font-size="7.5" fill="#222" text-anchor="middle" font-style="italic" stroke="#222" stroke-width="0.12">99.1%</text>
<path d="M510.65,838.40 L515.35,838.40 L513.00,841.00Z" fill="#000"/>
<path d="M510.65,830.40 L515.35,830.40 L513.00,827.80Z" fill="#000"/>
<text x="554.20" y="795.20" font-size="7.5" fill="#222" text-anchor="middle" font-style="italic" transform="rotate(-90 554.20 795.20)" stroke="#222" stroke-width="0.12">99.4%</text>
<path d="M554.90,793.65 L554.90,798.35 L557.50,796.00Z" fill="#000"/>
<path d="M547.10,793.65 L547.10,798.35 L544.50,796.00Z" fill="#000"/>
<clipPath id="clipf12"><rect x="565.00" y="759.10" width="76" height="73.80" rx="22" ry="22"/></clipPath>
<g clip-path="url(#clipf12)" stroke="#80848e" stroke-width="0.5" stroke-dasharray="13 4 6 6" opacity="0.55">
<line x1="453.00" y1="840.90" x2="542.80" y2="751.10"/>
<line x1="468.00" y1="840.90" x2="557.80" y2="751.10"/>
<line x1="483.00" y1="840.90" x2="572.80" y2="751.10"/>
<line x1="498.00" y1="840.90" x2="587.80" y2="751.10"/>
<line x1="513.00" y1="840.90" x2="602.80" y2="751.10"/>
<line x1="528.00" y1="840.90" x2="617.80" y2="751.10"/>
<line x1="543.00" y1="840.90" x2="632.80" y2="751.10"/>
<line x1="558.00" y1="840.90" x2="647.80" y2="751.10"/>
<line x1="573.00" y1="840.90" x2="662.80" y2="751.10"/>
<line x1="588.00" y1="840.90" x2="677.80" y2="751.10"/>
<line x1="603.00" y1="840.90" x2="692.80" y2="751.10"/>
<line x1="618.00" y1="840.90" x2="707.80" y2="751.10"/>
<line x1="633.00" y1="840.90" x2="722.80" y2="751.10"/>
<line x1="648.00" y1="840.90" x2="737.80" y2="751.10"/>
<line x1="663.00" y1="840.90" x2="752.80" y2="751.10"/>
</g>
<text x="422.80" y="889.55" font-size="9" fill="#2a2a2a" text-anchor="middle" textLength="19.4" lengthAdjust="spacingAndGlyphs" stroke="#2a2a2a" stroke-width="0.12">0.3%</text>
<text x="423.00" y="903.05" font-size="5.5" fill="#222" text-anchor="middle" stroke="#222" stroke-width="0.1">1</text>
<text x="423.00" y="926.30" font-size="7.5" fill="#222" text-anchor="middle" font-style="italic" stroke="#222" stroke-width="0.12">8.3%</text>
<path d="M420.65,919.50 L425.35,919.50 L423.00,916.90Z" fill="#000"/>
<text x="464.20" y="884.65" font-size="7.5" fill="#222" text-anchor="middle" font-style="italic" transform="rotate(-90 464.20 884.65)" stroke="#222" stroke-width="0.12">10%</text>
<path d="M464.90,883.10 L464.90,887.80 L467.50,885.45Z" fill="#000"/>
<clipPath id="clipf21"><rect x="475.00" y="848.90" width="76" height="73.10" rx="22" ry="22"/></clipPath>
<g clip-path="url(#clipf21)" stroke="#80848e" stroke-width="0.5" stroke-dasharray="13 4 6 6" opacity="0.55">
<line x1="363.00" y1="930.00" x2="452.10" y2="840.90"/>
<line x1="378.00" y1="930.00" x2="467.10" y2="840.90"/>
<line x1="393.00" y1="930.00" x2="482.10" y2="840.90"/>
<line x1="408.00" y1="930.00" x2="497.10" y2="840.90"/>
<line x1="423.00" y1="930.00" x2="512.10" y2="840.90"/>
<line x1="438.00" y1="930.00" x2="527.10" y2="840.90"/>
<line x1="453.00" y1="930.00" x2="542.10" y2="840.90"/>
<line x1="468.00" y1="930.00" x2="557.10" y2="840.90"/>
<line x1="483.00" y1="930.00" x2="572.10" y2="840.90"/>
<line x1="498.00" y1="930.00" x2="587.10" y2="840.90"/>
<line x1="513.00" y1="930.00" x2="602.10" y2="840.90"/>
<line x1="528.00" y1="930.00" x2="617.10" y2="840.90"/>
<line x1="543.00" y1="930.00" x2="632.10" y2="840.90"/>
<line x1="558.00" y1="930.00" x2="647.10" y2="840.90"/>
<line x1="573.00" y1="930.00" x2="662.10" y2="840.90"/>
</g>
<text x="602.80" y="889.55" font-size="9" fill="#2a2a2a" text-anchor="middle" textLength="19.4" lengthAdjust="spacingAndGlyphs" stroke="#2a2a2a" stroke-width="0.12">2.6%</text>
<text x="603.00" y="903.05" font-size="5.5" fill="#222" text-anchor="middle" stroke="#222" stroke-width="0.1">9</text>
<text x="603.00" y="926.30" font-size="7.5" fill="#222" text-anchor="middle" font-style="italic" stroke="#222" stroke-width="0.12">81.8%</text>
<path d="M600.65,919.50 L605.35,919.50 L603.00,916.90Z" fill="#000"/>
<text x="644.20" y="884.65" font-size="7.5" fill="#222" text-anchor="middle" font-style="italic" transform="rotate(-90 644.20 884.65)" stroke="#222" stroke-width="0.12">90%</text>
<path d="M637.10,883.10 L637.10,887.80 L634.50,885.45Z" fill="#000"/>
</svg></body></html>
